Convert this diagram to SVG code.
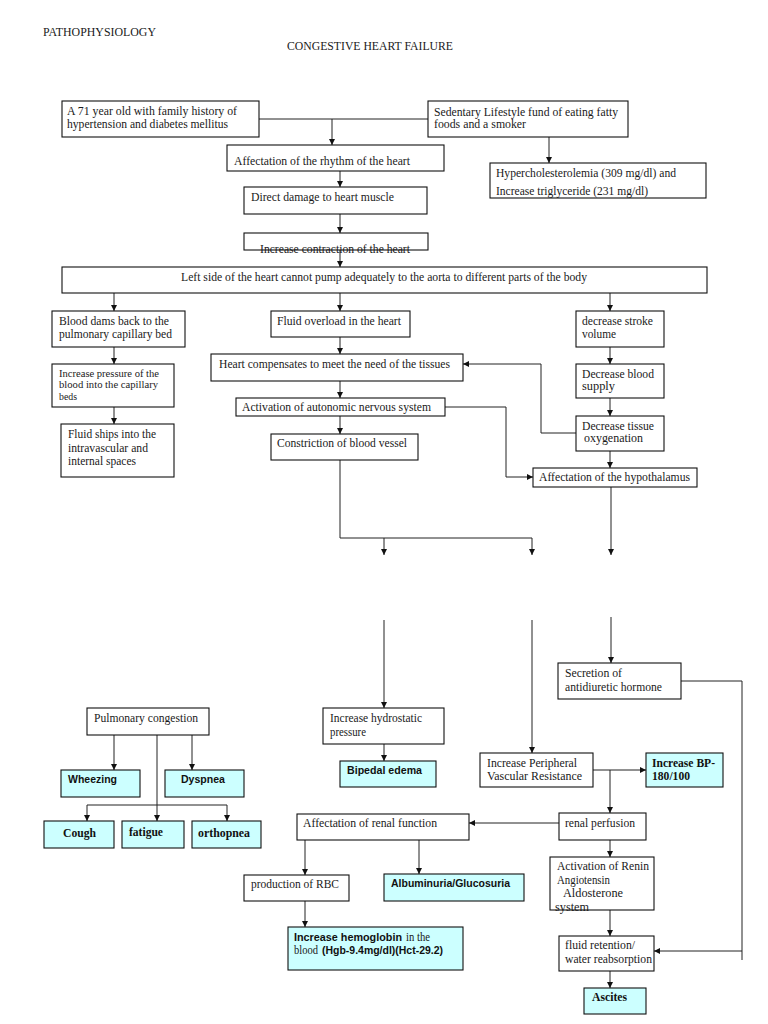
<svg xmlns="http://www.w3.org/2000/svg" width="768" height="1024" viewBox="0 0 768 1024">
<style>
rect{fill:#fff;stroke:#111;stroke-width:1.1}
rect.c{fill:#ccffff}
.t{font-family:"Liberation Serif","Times New Roman",serif;font-size:12.3px;fill:#1a1a1a}
.s{font-family:"Liberation Serif","Times New Roman",serif;font-size:10.5px;fill:#1a1a1a}
.b{font-family:"Liberation Sans",Arial,sans-serif;font-size:11px;font-weight:bold;fill:#111}
.bs{font-family:"Liberation Serif","Times New Roman",serif;font-size:12px;font-weight:bold;fill:#111}
#connectors line,#connectors polyline{stroke:#222;stroke-width:1;fill:none}
</style>
<defs>
<marker id="ah" markerUnits="userSpaceOnUse" markerWidth="6" markerHeight="6" refX="6" refY="3" orient="auto">
<path d="M0,0 L6,3 L0,6 z" fill="#111"/>
</marker>
</defs>
<rect x="0" y="0" width="768" height="1024" style="fill:#fff;stroke:none"/>
<g id="titles">
<text class="t" x="43" y="36" textLength="113" lengthAdjust="spacingAndGlyphs">PATHOPHYSIOLOGY</text>
<text class="t" x="287" y="50" textLength="166" lengthAdjust="spacingAndGlyphs">CONGESTIVE HEART FAILURE</text>
</g>
<g id="connectors">
<line x1="259" y1="119" x2="428" y2="119"/>
<line x1="332" y1="119" x2="332" y2="145" marker-end="url(#ah)"/>
<line x1="549" y1="137" x2="549" y2="163" marker-end="url(#ah)"/>
<line x1="340" y1="171" x2="340" y2="187" marker-end="url(#ah)"/>
<line x1="340" y1="214" x2="340" y2="233" marker-end="url(#ah)"/>
<line x1="340" y1="250" x2="340" y2="267" marker-end="url(#ah)"/>
<line x1="114" y1="293" x2="114" y2="311" marker-end="url(#ah)"/>
<line x1="340" y1="293" x2="340" y2="311" marker-end="url(#ah)"/>
<line x1="610" y1="293" x2="610" y2="311" marker-end="url(#ah)"/>
<line x1="114" y1="347" x2="114" y2="364" marker-end="url(#ah)"/>
<line x1="114" y1="407" x2="114" y2="424" marker-end="url(#ah)"/>
<line x1="340" y1="337" x2="340" y2="354" marker-end="url(#ah)"/>
<line x1="340" y1="381" x2="340" y2="398" marker-end="url(#ah)"/>
<line x1="340" y1="416" x2="340" y2="434" marker-end="url(#ah)"/>
<line x1="610" y1="347" x2="610" y2="364" marker-end="url(#ah)"/>
<line x1="610" y1="398" x2="610" y2="416" marker-end="url(#ah)"/>
<line x1="610" y1="451" x2="610" y2="468" marker-end="url(#ah)"/>
<polyline points="576,433 541,433 541,364 463,364" marker-end="url(#ah)"/>
<polyline points="445,407 506,407 506,477 533,477" marker-end="url(#ah)"/>
<polyline points="340,460 340,538 532,538"/>
<line x1="384" y1="538" x2="384" y2="555" marker-end="url(#ah)"/>
<line x1="532" y1="538" x2="532" y2="555" marker-end="url(#ah)"/>
<line x1="611" y1="487" x2="611" y2="555" marker-end="url(#ah)"/>
<line x1="384" y1="620" x2="384" y2="708" marker-end="url(#ah)"/>
<line x1="532" y1="620" x2="532" y2="753" marker-end="url(#ah)"/>
<line x1="611" y1="617" x2="611" y2="663" marker-end="url(#ah)"/>
<polyline points="681,681 742,681 742,960"/>
<line x1="742" y1="951" x2="654" y2="951" marker-end="url(#ah)"/>
<line x1="384" y1="744" x2="384" y2="761" marker-end="url(#ah)"/>
<line x1="593" y1="770" x2="646" y2="770" marker-end="url(#ah)"/>
<line x1="610" y1="770" x2="610" y2="813" marker-end="url(#ah)"/>
<line x1="559" y1="823" x2="469" y2="823" marker-end="url(#ah)"/>
<line x1="305" y1="840" x2="305" y2="875" marker-end="url(#ah)"/>
<line x1="419" y1="840" x2="419" y2="874" marker-end="url(#ah)"/>
<line x1="305" y1="901" x2="305" y2="927" marker-end="url(#ah)"/>
<line x1="610" y1="840" x2="610" y2="857" marker-end="url(#ah)"/>
<line x1="610" y1="910" x2="610" y2="936" marker-end="url(#ah)"/>
<line x1="610" y1="971" x2="610" y2="988" marker-end="url(#ah)"/>
<line x1="114" y1="735" x2="114" y2="770" marker-end="url(#ah)"/>
<line x1="157" y1="735" x2="157" y2="821" marker-end="url(#ah)"/>
<line x1="192" y1="735" x2="192" y2="770" marker-end="url(#ah)"/>
<line x1="87" y1="805" x2="227" y2="805"/>
<line x1="87" y1="805" x2="87" y2="821" marker-end="url(#ah)"/>
<line x1="227" y1="805" x2="227" y2="821" marker-end="url(#ah)"/>
</g>
<g id="n-patient"><rect x="62" y="101" width="197" height="36"/>
<text class="t" x="67" y="115" textLength="170" lengthAdjust="spacingAndGlyphs">A 71 year old with family history of</text>
<text class="t" x="67" y="128" textLength="161" lengthAdjust="spacingAndGlyphs">hypertension and diabetes mellitus</text></g>
<g id="n-lifestyle"><rect x="428" y="101" width="200" height="36"/>
<text class="t" x="434" y="116" textLength="184" lengthAdjust="spacingAndGlyphs">Sedentary Lifestyle fund of eating fatty</text>
<text class="t" x="434" y="128" textLength="92" lengthAdjust="spacingAndGlyphs">foods and a smoker</text></g>
<g id="n-rhythm"><rect x="227" y="145" width="217" height="26"/>
<text class="t" x="234" y="165" textLength="176" lengthAdjust="spacingAndGlyphs">Affectation of the rhythm of the  heart</text></g>
<g id="n-hyperchol"><rect x="490" y="163" width="216" height="35"/>
<text class="t" x="496" y="177" textLength="180" lengthAdjust="spacingAndGlyphs">Hypercholesterolemia (309 mg/dl) and</text>
<text class="t" x="496" y="195" textLength="152" lengthAdjust="spacingAndGlyphs">Increase triglyceride (231 mg/dl)</text></g>
<g id="n-damage"><rect x="244" y="187" width="183" height="27"/>
<text class="t" x="251" y="201" textLength="143" lengthAdjust="spacingAndGlyphs">Direct damage to heart  muscle</text></g>
<g id="n-contraction"><rect x="244" y="233" width="184" height="17"/>
<text class="t" x="260" y="253" textLength="150" lengthAdjust="spacingAndGlyphs">Increase contraction of the heart</text></g>
<g id="n-leftside"><rect x="62" y="267" width="645" height="26"/>
<text class="t" x="181" y="281" textLength="406" lengthAdjust="spacingAndGlyphs">Left side of the heart cannot pump adequately to the aorta to different parts of the body</text></g>
<g id="n-blooddams"><rect x="52" y="311" width="133" height="36"/>
<text class="t" x="59" y="325" textLength="110" lengthAdjust="spacingAndGlyphs">Blood dams back to the</text>
<text class="t" x="59" y="338" textLength="113" lengthAdjust="spacingAndGlyphs">pulmonary capillary bed</text></g>
<g id="n-fluidoverload"><rect x="271" y="311" width="139" height="26"/>
<text class="t" x="277" y="325" textLength="124" lengthAdjust="spacingAndGlyphs">Fluid overload in the heart</text></g>
<g id="n-stroke"><rect x="576" y="311" width="88" height="36"/>
<text class="t" x="582" y="325" textLength="71" lengthAdjust="spacingAndGlyphs">decrease stroke</text>
<text class="t" x="582" y="338" textLength="34" lengthAdjust="spacingAndGlyphs">volume</text></g>
<g id="n-pressure"><rect x="52" y="364" width="122" height="43"/>
<text class="s" x="59" y="377" textLength="100" lengthAdjust="spacingAndGlyphs">Increase pressure of the</text>
<text class="s" x="59" y="388" textLength="99" lengthAdjust="spacingAndGlyphs">blood into the capillary</text>
<text class="s" x="59" y="400" textLength="18" lengthAdjust="spacingAndGlyphs">beds</text></g>
<g id="n-fluidships"><rect x="61" y="424" width="113" height="53"/>
<text class="t" x="68" y="438" textLength="88" lengthAdjust="spacingAndGlyphs">Fluid ships into the</text>
<text class="t" x="68" y="452" textLength="80" lengthAdjust="spacingAndGlyphs">intravascular and</text>
<text class="t" x="68" y="465" textLength="68" lengthAdjust="spacingAndGlyphs">internal spaces</text></g>
<g id="n-compensates"><rect x="211" y="354" width="252" height="27"/>
<text class="t" x="219" y="368" textLength="231" lengthAdjust="spacingAndGlyphs">Heart compensates to meet the need of the tissues</text></g>
<g id="n-supply"><rect x="576" y="364" width="88" height="34"/>
<text class="t" x="582" y="378" textLength="72" lengthAdjust="spacingAndGlyphs">Decrease blood</text>
<text class="t" x="582" y="390" textLength="33" lengthAdjust="spacingAndGlyphs">supply</text></g>
<g id="n-autonomic"><rect x="236" y="398" width="209" height="18"/>
<text class="t" x="242" y="411" textLength="189" lengthAdjust="spacingAndGlyphs">Activation of autonomic nervous system</text></g>
<g id="n-oxygenation"><rect x="576" y="416" width="88" height="35"/>
<text class="t" x="582" y="430" textLength="72" lengthAdjust="spacingAndGlyphs">Decrease tissue</text>
<text class="t" x="584" y="442" textLength="59" lengthAdjust="spacingAndGlyphs">oxygenation</text></g>
<g id="n-constriction"><rect x="271" y="434" width="147" height="26"/>
<text class="t" x="277" y="447" textLength="130" lengthAdjust="spacingAndGlyphs">Constriction of blood vessel</text></g>
<g id="n-hypothalamus"><rect x="533" y="468" width="164" height="19"/>
<text class="t" x="539" y="481" textLength="151" lengthAdjust="spacingAndGlyphs">Affectation of the hypothalamus</text></g>
<g id="n-adh"><rect x="558" y="663" width="123" height="36"/>
<text class="t" x="565" y="677" textLength="57" lengthAdjust="spacingAndGlyphs">Secretion of</text>
<text class="t" x="565" y="691" textLength="97" lengthAdjust="spacingAndGlyphs">antidiuretic hormone</text></g>
<g id="n-pulmonary"><rect x="87" y="708" width="122" height="27"/>
<text class="t" x="94" y="722" textLength="104" lengthAdjust="spacingAndGlyphs">Pulmonary congestion</text></g>
<g id="n-wheezing"><rect class="c" x="61" y="770" width="79" height="27"/>
<text class="b" x="68" y="783" textLength="49" lengthAdjust="spacingAndGlyphs">Wheezing</text></g>
<g id="n-dyspnea"><rect class="c" x="165" y="770" width="79" height="27"/>
<text class="b" x="181" y="783" textLength="44" lengthAdjust="spacingAndGlyphs">Dyspnea</text></g>
<g id="n-cough"><rect class="c" x="44" y="821" width="70" height="27"/>
<text class="bs" x="63" y="837" textLength="33" lengthAdjust="spacingAndGlyphs">Cough</text></g>
<g id="n-fatigue"><rect class="c" x="122" y="821" width="62" height="27"/>
<text class="bs" x="129" y="836" textLength="34" lengthAdjust="spacingAndGlyphs">fatigue</text></g>
<g id="n-orthopnea"><rect class="c" x="192" y="821" width="69" height="27"/>
<text class="bs" x="198" y="837" textLength="52" lengthAdjust="spacingAndGlyphs">orthopnea</text></g>
<g id="n-hydrostatic"><rect x="323" y="708" width="121" height="36"/>
<text class="t" x="330" y="722" textLength="92" lengthAdjust="spacingAndGlyphs">Increase hydrostatic</text>
<text class="t" x="330" y="736" textLength="36" lengthAdjust="spacingAndGlyphs">pressure</text></g>
<g id="n-bipedal"><rect class="c" x="340" y="761" width="96" height="26"/>
<text class="b" x="347" y="774" textLength="75" lengthAdjust="spacingAndGlyphs">Bipedal edema</text></g>
<g id="n-ipvr"><rect x="480" y="753" width="113" height="34"/>
<text class="t" x="487" y="767" textLength="90" lengthAdjust="spacingAndGlyphs">Increase Peripheral</text>
<text class="t" x="487" y="780" textLength="95" lengthAdjust="spacingAndGlyphs">Vascular  Resistance</text></g>
<g id="n-bp"><rect class="c" x="646" y="753" width="77" height="34"/>
<text class="bs" x="652" y="767" textLength="63" lengthAdjust="spacingAndGlyphs">Increase BP-</text>
<text class="bs" x="652" y="780" textLength="38" lengthAdjust="spacingAndGlyphs">180/100</text></g>
<g id="n-renalfunction"><rect x="297" y="814" width="172" height="26"/>
<text class="t" x="303" y="827" textLength="134" lengthAdjust="spacingAndGlyphs">Affectation of renal function</text></g>
<g id="n-renalperfusion"><rect x="559" y="813" width="87" height="27"/>
<text class="t" x="565" y="827" textLength="70" lengthAdjust="spacingAndGlyphs">renal perfusion</text></g>
<g id="n-rbc"><rect x="244" y="875" width="105" height="26"/>
<text class="t" x="251" y="888" textLength="88" lengthAdjust="spacingAndGlyphs">production of RBC</text></g>
<g id="n-albuminuria"><rect class="c" x="384" y="874" width="140" height="27"/>
<text class="b" x="391" y="887" textLength="119" lengthAdjust="spacingAndGlyphs">Albuminuria/Glucosuria</text></g>
<g id="n-renin"><rect x="550" y="857" width="104" height="53"/>
<text class="t" x="557" y="870" textLength="92" lengthAdjust="spacingAndGlyphs">Activation of Renin</text>
<text class="t" x="557" y="884" textLength="53" lengthAdjust="spacingAndGlyphs">Angiotensin</text>
<text class="t" x="563" y="897" textLength="60" lengthAdjust="spacingAndGlyphs">Aldosterone</text>
<text class="t" x="555" y="911" textLength="34" lengthAdjust="spacingAndGlyphs">system</text></g>
<g id="n-hemoglobin"><rect class="c" x="288" y="927" width="175" height="43"/>
<text class="b" x="294" y="941" textLength="108" lengthAdjust="spacingAndGlyphs">Increase hemoglobin</text>
<text class="t" x="406" y="941" textLength="24" lengthAdjust="spacingAndGlyphs">in the</text>
<text class="t" x="294" y="954" textLength="24" lengthAdjust="spacingAndGlyphs">blood</text>
<text class="b" x="322" y="954" textLength="121" lengthAdjust="spacingAndGlyphs">(Hgb-9.4mg/dl)(Hct-29.2)</text></g>
<g id="n-fluidretention"><rect x="559" y="936" width="95" height="35"/>
<text class="t" x="565" y="949" textLength="70" lengthAdjust="spacingAndGlyphs">fluid retention/</text>
<text class="t" x="565" y="963" textLength="87" lengthAdjust="spacingAndGlyphs">water reabsorption</text></g>
<g id="n-ascites"><rect class="c" x="584" y="988" width="62" height="26"/>
<text class="bs" x="592" y="1001" textLength="35" lengthAdjust="spacingAndGlyphs">Ascites</text></g>
</svg>
